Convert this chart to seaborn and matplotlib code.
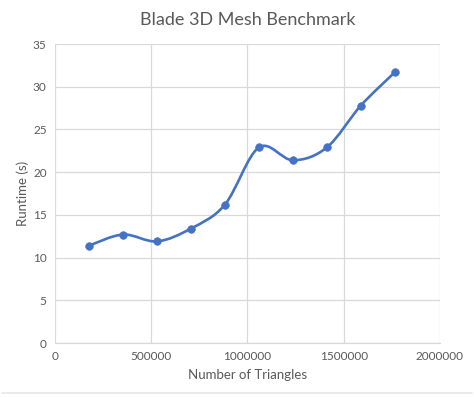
import numpy as np
import pandas as pd
import seaborn as sns
import matplotlib.pyplot as plt
from matplotlib.path import Path
from matplotlib.patches import PathPatch
from matplotlib.lines import Line2D

# data
triangles = [176600, 353200, 529800, 706400, 883000, 1059600, 1236200, 1412800, 1589400, 1766000]
runtime = [11.4, 12.7, 11.9, 13.4, 16.2, 22.9, 21.4, 22.9, 27.8, 31.7]

BLUE = '#4472C4'
GREY = '#595959'
GRID = '#d9d9d9'


def smooth_path(xs, ys):
    # Excel-style smoothed line: cubic bezier segments with Catmull-Rom control points
    pts = np.column_stack([xs, ys]).astype(float)
    n = len(pts)
    verts = [pts[0]]
    codes = [Path.MOVETO]
    for i in range(n - 1):
        p0 = pts[i - 1] if i > 0 else pts[i]
        p1 = pts[i]
        p2 = pts[i + 1]
        p3 = pts[i + 2] if i + 2 < n else pts[i + 1]
        c1 = p1 + (p2 - p0) / 6.0
        c2 = p2 - (p3 - p1) / 6.0
        verts += [c1, c2, p2]
        codes += [Path.CURVE4] * 3
    return Path(verts, codes)


def main():
    df = pd.DataFrame({'triangles': triangles, 'runtime': runtime})

    sns.set_theme(style='whitegrid')
    plt.rcParams['font.family'] = ['Lato', 'DejaVu Sans']

    fig = plt.figure(figsize=(4.74, 3.97), dpi=100)
    ax = fig.add_axes([0.116, 0.136, 0.812, 0.753])

    line = PathPatch(smooth_path(df['triangles'], df['runtime']), facecolor='none',
                     edgecolor=BLUE, lw=1.9, zorder=3, capstyle='round')
    ax.add_patch(line)
    sns.scatterplot(data=df, x='triangles', y='runtime', ax=ax, color=BLUE, s=30,
                    edgecolor=BLUE, linewidth=0.5, zorder=4)

    ax.set_xlim(0, 2000000)
    ax.set_ylim(0, 35)
    ax.set_xticks(range(0, 2000001, 500000))
    ax.set_yticks(range(0, 36, 5))
    ax.set_xticklabels([str(v) for v in range(0, 2000001, 500000)])
    ax.grid(True, color=GRID, linewidth=0.9)
    for side in ['left', 'right', 'top']:
        ax.spines[side].set_visible(False)
    ax.spines['bottom'].set_color(GRID)
    ax.spines['bottom'].set_linewidth(0.9)
    ax.tick_params(length=0, colors=GREY, labelsize=8.5, pad=6)

    ax.set_xlabel('Number of Triangles', color=GREY, fontsize=9.5, labelpad=5)
    ax.set_ylabel('Runtime (s)', color=GREY, fontsize=9.5, labelpad=3)
    ax.set_title('Blade 3D Mesh Benchmark', color=GREY, fontsize=13, pad=14)

    # faint edge of the chart frame along the bottom
    fig.lines.append(Line2D([0.004, 0.996], [0.01, 0.01], transform=fig.transFigure,
                            color='#e6e6e6', lw=1.2))

    plt.savefig('out.png', dpi=100)


if __name__ == "__main__":
    main()
